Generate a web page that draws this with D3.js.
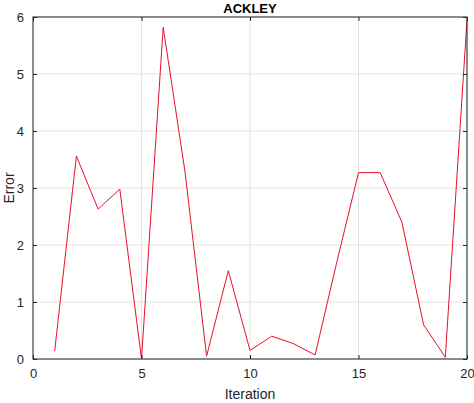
<!DOCTYPE html>
<html>
<head>
<script src="https://cdn.jsdelivr.net/npm/d3@7"></script>
<style>
  body { margin: 0; background: #fff; }
  text { font-family: "Liberation Sans", Arial, sans-serif; }
</style>
</head>
<body>
<svg id="chart" width="474" height="403"></svg>
<script>
const iterations = d3.range(1, 21);
const errors = [0.14, 3.56, 2.63, 2.98, 0.0, 5.82, 3.3, 0.05, 1.55, 0.15,
                0.4, 0.27, 0.07, 1.7, 3.27, 3.27, 2.4, 0.6, 0.03, 5.95];
const xTicks = [0, 5, 10, 15, 20];
const yTicks = [0, 1, 2, 3, 4, 5, 6];

const svg = d3.select("#chart");
const m = { l: 33, r: 7, t: 17, b: 44 };
const w = 474 - m.l - m.r, h = 403 - m.t - m.b;
const g = svg.append("g").attr("transform", `translate(${m.l},${m.t})`);

const x = d3.scaleLinear().domain([0, 20]).range([0, w]);
const y = d3.scaleLinear().domain([0, 6]).range([h, 0]);

// grid
g.selectAll(".gx").data(xTicks).join("line")
  .attr("x1", d => x(d)).attr("x2", d => x(d)).attr("y1", 0).attr("y2", h)
  .attr("stroke", "#e3e3e3");
g.selectAll(".gy").data(yTicks).join("line")
  .attr("y1", d => y(d)).attr("y2", d => y(d)).attr("x1", 0).attr("x2", w)
  .attr("stroke", "#e3e3e3");

// line
g.append("path").datum(iterations)
  .attr("fill", "none").attr("stroke", "#e8102a").attr("stroke-width", 1)
  .attr("d", d3.line().x(d => x(d)).y((d, i) => y(errors[i])));

// axes
const fmt = d3.format("d");
const ax = (sel) => sel.call(s => s.select(".domain").remove())
  .call(s => s.selectAll("line").attr("stroke", "#262626"))
  .call(s => s.selectAll("text").attr("fill", "#262626").style("font-size", "13px"));
g.append("g").attr("transform", `translate(0,${h})`)
  .call(d3.axisBottom(x).tickValues(xTicks).tickFormat(fmt).tickSizeInner(-4).tickPadding(10)).call(ax);
g.append("g").call(d3.axisTop(x).tickValues(xTicks).tickFormat("").tickSizeInner(-4)).call(ax);
g.append("g")
  .call(d3.axisLeft(y).tickValues(yTicks).tickFormat(fmt).tickSizeInner(-4).tickPadding(9)).call(ax);
g.append("g").attr("transform", `translate(${w},0)`)
  .call(d3.axisRight(y).tickValues(yTicks).tickFormat("").tickSizeInner(-4)).call(ax);

g.append("rect").attr("width", w).attr("height", h)
  .attr("fill", "none").attr("stroke", "#262626").attr("stroke-width", 1);

svg.append("text").attr("x", m.l + w / 2).attr("y", 13).attr("text-anchor", "middle")
  .style("font-size", "13px").style("font-weight", "bold").text("ACKLEY");
svg.append("text").attr("x", m.l + w / 2).attr("y", 399).attr("text-anchor", "middle")
  .style("font-size", "14px").attr("fill", "#262626").text("Iteration");
svg.append("text").attr("transform", `translate(14,${m.t + h / 2}) rotate(-90)`)
  .attr("text-anchor", "middle").style("font-size", "14px").attr("fill", "#262626").text("Error");
</script>
</body>
</html>
